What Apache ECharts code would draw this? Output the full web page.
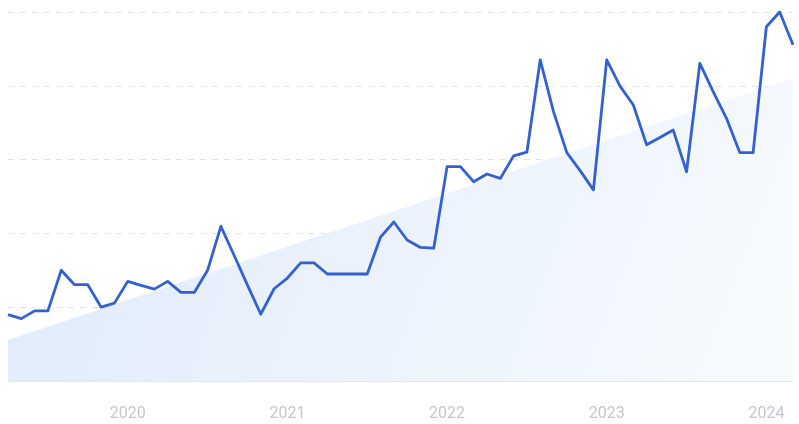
<!DOCTYPE html>
<html>
<head>
<meta charset="utf-8">
<script src="https://cdn.jsdelivr.net/npm/echarts@6/dist/echarts.min.js"></script>
<style>
  html, body { margin: 0; padding: 0; background: #ffffff; }
  #chart { width: 799px; height: 424px; }
</style>
</head>
<body>
<div id="chart"></div>
<script>
const months = [
  '2019-04','2019-05','2019-06','2019-07','2019-08','2019-09','2019-10','2019-11','2019-12',
  '2020-01','2020-02','2020-03','2020-04','2020-05','2020-06','2020-07','2020-08','2020-09','2020-10','2020-11','2020-12',
  '2021-01','2021-02','2021-03','2021-04','2021-05','2021-06','2021-07','2021-08','2021-09','2021-10','2021-11','2021-12',
  '2022-01','2022-02','2022-03','2022-04','2022-05','2022-06','2022-07','2022-08','2022-09','2022-10','2022-11','2022-12',
  '2023-01','2023-02','2023-03','2023-04','2023-05','2023-06','2023-07','2023-08','2023-09','2023-10','2023-11','2023-12',
  '2024-01','2024-02','2024-03'
];
const searchVolume = [
  18, 16.9, 19, 19, 30, 26.1, 26.1, 20, 21.1,
  27, 25.9, 24.9, 27, 24, 24, 30, 41.9, 34, 26, 18.1, 25,
  27.9, 32, 32, 29, 29, 29, 29, 39, 43.1, 38.2, 36.2, 36,
  58.1, 58.1, 54, 56.1, 54.9, 61, 62, 87, 73, 61.9, 57, 51.8,
  87, 79.9, 74.8, 64, 66, 68, 56.7, 86.1, 78.4, 71.2, 61.9, 61.9,
  96, 100, 91.1
];
const trendStart = 11.1;
const trendEnd = 82.1;
const yTicks = [0, 20, 40, 60, 80, 100];

const chart = echarts.init(document.getElementById('chart'), null, { renderer: 'canvas' });
chart.setOption({
  animation: false,
  backgroundColor: '#ffffff',
  grid: { left: 8, right: 6, top: 12, bottom: 43, containLabel: false },
  xAxis: {
    type: 'category',
    data: months,
    boundaryGap: false,
    axisLine: { show: true, lineStyle: { color: '#e1e6ec', width: 1 } },
    axisTick: { show: false },
    axisLabel: {
      interval: (i, v) => v.endsWith('-01'),
      formatter: v => v.slice(0, 4),
      color: '#c6c7cc',
      fontSize: 16,
      fontFamily: 'Roboto',
      margin: 25
    },
    splitLine: { show: false }
  },
  yAxis: {
    type: 'value',
    min: yTicks[0],
    max: yTicks[yTicks.length - 1],
    interval: 20,
    axisLine: { show: false },
    axisTick: { show: false },
    axisLabel: { show: false },
    splitLine: { show: true, lineStyle: { color: '#dfe5ec', type: [6, 6], width: 1 } }
  },
  series: [
    {
      type: 'line',
      data: [[0, trendStart], [months.length - 1, trendEnd]],
      symbol: 'none',
      lineStyle: { width: 0, opacity: 0 },
      areaStyle: {
        color: new echarts.graphic.LinearGradient(0, 0, 1, 1, [
          { offset: 0, color: '#dfeafa' },
          { offset: 1, color: '#f8fbfe' }
        ]),
        opacity: 1
      },
      z: 1,
      silent: true
    },
    {
      type: 'line',
      data: searchVolume,
      symbol: 'none',
      smooth: false,
      lineStyle: { color: '#3461d1', width: 2.8, join: 'round' },
      z: 3
    }
  ]
});
</script>
</body>
</html>
